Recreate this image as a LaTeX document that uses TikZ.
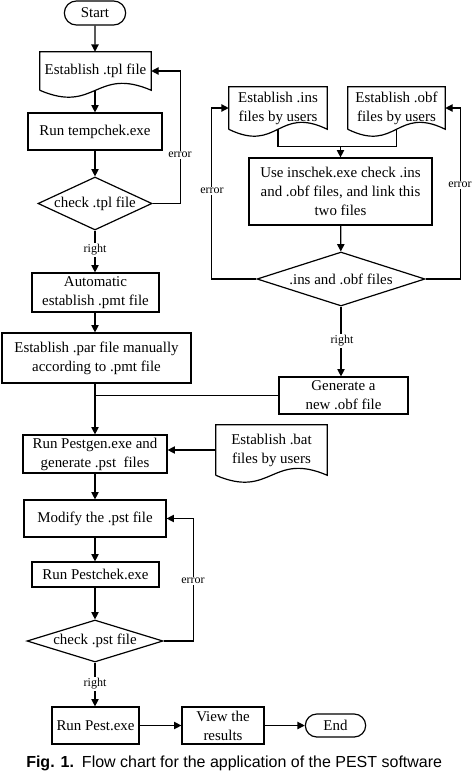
\documentclass[tikz,border=0pt]{standalone}
\usepackage{fontspec}
\setmainfont{Liberation Serif}
\newfontfamily\capfont{Liberation Sans}
\usetikzlibrary{arrows.meta,positioning,shapes.geometric,shapes.misc,calc}

\tikzset{
  txt/.style={font=\fontsize{11.2}{14.2}\selectfont, align=center, inner sep=1pt},
  procbox/.style={txt, draw, line width=0.9pt, rectangle},
  termbox/.style={txt, draw, line width=0.9pt, rounded rectangle},
  decbox/.style={txt, draw, line width=0.9pt, diamond, inner sep=0pt},
  docbox/.style={txt},
  lbl/.style={font=\fontsize{9}{10}\selectfont, fill=white, inner sep=1pt},
  flow/.style={line width=0.9pt},
  arr/.style={flow, -{Triangle[length=5.5pt,width=5.5pt]}},
}

% outline of a document node: flat top, wavy bottom
\newcommand{\docoutline}[1]{%
  \draw[flow] (#1.south west) -- (#1.north west) -- (#1.north east) -- (#1.south east)
    .. controls ($(#1.south)+(0,-24)$) and ($(#1.south)+(0,24)$) .. (#1.south west);
}

\begin{document}
\begin{tikzpicture}[x=0.75pt,y=0.75pt,yscale=-1,xscale=1]
\useasboundingbox (0,0) rectangle (474,772);

%Left column
\node[termbox, minimum width=48pt, minimum height=18pt] (start) at (95,13) {Start};
\node[docbox, minimum width=83.25pt, minimum height=28.5pt] (tpl) at (95.5,71) {Establish .tpl file};
\docoutline{tpl}
\node[procbox, minimum width=100.5pt, minimum height=27.75pt] (tempchek) at (95,131.5) {Run tempchek.exe};
\node[decbox, shape aspect=2.15, minimum width=85.5pt, minimum height=39.75pt] (chktpl) at (95,203.5) {check .tpl file};
\node[procbox, minimum width=95.25pt, minimum height=29.25pt] (auto) at (95.5,292.5) {Automatic\\establish .pmt file};
\node[procbox, minimum width=141.75pt, minimum height=37.5pt] (par) at (96.5,358) {Establish .par file manually\\according to .pmt file};
\node[procbox, minimum width=108pt, minimum height=28.5pt] (pestgen) at (95,454) {Run Pestgen.exe and\\generate .pst~ files};
\node[procbox, minimum width=106.5pt, minimum height=27.75pt] (modify) at (95,518.5) {Modify the .pst file};
\node[procbox, minimum width=95.25pt, minimum height=18.75pt] (pestchek) at (95.5,574.5) {Run Pestchek.exe};
\node[decbox, shape aspect=3.24, minimum width=102pt, minimum height=31.5pt] (chkpst) at (95,641) {check .pst file};
\node[procbox, minimum width=65.25pt, minimum height=27.75pt] (pest) at (95.5,725.5) {Run Pest.exe};
\node[procbox, minimum width=61.5pt, minimum height=27.75pt] (view) at (223,725.5) {View the\\results};
\node[termbox, minimum width=47.25pt, minimum height=17.25pt] (end) at (335.5,725.5) {End};

%Right column
\node[docbox, minimum width=73.5pt, minimum height=31.5pt] (ins) at (278,108) {Establish .ins\\files by users};
\docoutline{ins}
\node[docbox, minimum width=72.75pt, minimum height=31.5pt] (obf) at (396.5,108) {Establish .obf\\files by users};
\docoutline{obf}
\node[procbox, minimum width=137.25pt, minimum height=50.25pt] (use) at (340.5,191.5) {Use inschek.exe check .ins\\and .obf files, and link this\\two files};
\node[decbox, shape aspect=3.1, minimum width=126pt, minimum height=40.5pt] (chkio) at (341,279) {.ins and .obf files};
\node[procbox, minimum width=96.75pt, minimum height=27.75pt] (gen) at (343.5,395.5) {Generate a\\new .obf file};
\node[docbox, minimum width=83.25pt, minimum height=37.5pt] (bat) at (271.5,450) {Establish .bat\\files by users};
\docoutline{bat}

%Connectors
\draw[arr] (start) -- (start |- tpl.north);
\draw[arr] (start |- tpl.south) -- (tempchek);
\draw[arr] (tempchek) -- (chktpl);
\draw[arr] (chktpl.east) -- ++(28,0) |- (tpl.east);
\draw[arr] (chktpl.south) -- (chktpl.south |- auto.north);
\draw[arr] (chktpl.south |- auto.south) -- (chktpl.south |- par.north);
\coordinate (join) at (pestgen.north |- gen.west);
\draw[arr] (pestgen.north |- par.south) -- (pestgen.north);
\draw[flow] (gen.west) -- (join);

\coordinate (merge) at ($(use.north)+(0,-11)$);
\draw[flow] (ins.south) |- (merge) -| (obf.south);
\draw[arr] (merge) -- (use.north);
\draw[arr] (use) -- (chkio);
\draw[arr] (chkio.west) -- ++(-45,0) |- (ins.west);
\draw[arr] (chkio.east) -- ++(35,0) |- (obf.east);
\draw[arr] (chkio.south) -- (chkio.south |- gen.north);

\draw[arr] (bat.west) -- (pestgen.east |- bat.west);
\draw[arr] (pestgen) -- (modify);
\draw[arr] (modify) -- (modify.south |- pestchek.north);
\draw[arr] (modify.south |- pestchek.south) -- (chkpst);
\draw[arr] (chkpst.east) -- ++(30,0) |- (modify.east);
\draw[arr] (chkpst.south) -- (chkpst.south |- pest.north);
\draw[arr] (pest) -- (view);
\draw[arr] (view) -- (end);

% Text Node
\node[lbl] (err1) at (180,155) {error};
\node[lbl] (err2) at (212,191) {error};
\node[lbl] (err3) at (460,185) {error};
\node[lbl] (err4) at (193,581) {error};
\node[lbl] (ok1) at (95,250) {right};
\node[lbl] (ok2) at (342,341) {right};
\node[lbl] (ok3) at (95,684) {right};

% Caption
\node[anchor=base west, inner sep=0pt, font=\capfont\fontsize{12}{14}\selectfont] (cap) at (26,767) {\textbf{Fig. 1.}\enspace Flow chart for the application of the PEST software};

\end{tikzpicture}
\end{document}
